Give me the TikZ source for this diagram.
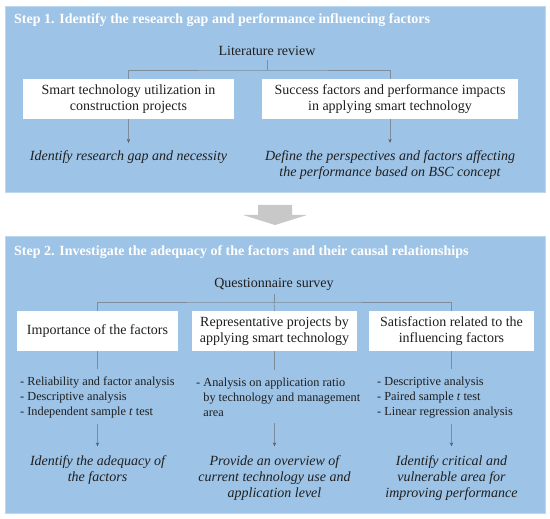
\documentclass[tikz,border=0pt]{standalone}
\usepackage{fontspec}
\setmainfont{Liberation Serif}
\usetikzlibrary{arrows.meta}
\definecolor{panel}{HTML}{9DC3E6}
\definecolor{panelrim}{HTML}{BDD7EE}
\definecolor{conn}{HTML}{7F8C9A}
\definecolor{tipc}{HTML}{5A6470}
\definecolor{bigarrow}{HTML}{C8C8C8}
\definecolor{ink}{HTML}{1F1F1F}
\tikzset{
  panelbox/.style={fill=panel, draw=panelrim, line width=1pt},
  steptitle/.style={anchor=west, inner sep=0pt, text=white, font=\fontsize{14}{16}\selectfont\bfseries},
  plain/.style={inner xsep=0pt, inner ysep=4pt, text=ink, font=\fontsize{14}{16}\selectfont},
  whitebox/.style={fill=white, inner sep=0pt, text=ink, align=center, font=\fontsize{14}{16}\selectfont},
  outtext/.style={inner sep=0pt, text=ink, align=center, font=\fontsize{14}{16}\selectfont\itshape},
  bullets/.style={anchor=west, inner sep=0pt, text=ink, align=left, font=\fontsize{12.3}{15}\selectfont},
  link/.style={draw=conn, line width=0.6pt},
  arrowlink/.style={link, -{Stealth[length=4pt,width=3.5pt,color=tipc]}},
}
\begin{document}
\begin{tikzpicture}[x=1pt,y=-1pt]
\useasboundingbox (0,0) rectangle (550,519);
\fill[white] (0,0) rectangle (550,519);
% panels
\draw[panelbox] (5,7) rectangle (545,193);
\draw[panelbox] (5,237) rectangle (545,513);
% big arrow between steps
\fill[bigarrow] (258,205) -- (292,205) -- (292,215) -- (307,215) -- (275,225) -- (243,215) -- (258,215) -- cycle;

% ---- Step 1
\node[steptitle] (t1) at (14,20) {Step 1. Identify the research gap and performance influencing factors};
\node[plain] (lit) at (267,51) {Literature review};
\node[whitebox, minimum width=211pt, minimum height=40pt] (b1) at (128.5,99) {Smart technology utilization in\\construction projects};
\node[whitebox, minimum width=256pt, minimum height=40pt] (b2) at (390,99) {Success factors and performance impacts\\in applying smart technology};
\node[outtext] (o1) at (128.5,157) {Identify research gap and necessity};
\node[outtext] (o2) at (390,165) {Define the perspectives and factors affecting\\the performance based on BSC concept};
\coordinate (j1) at (267,70);
\draw[link] (lit.south) -- (j1);
\draw[link] (b1.north) |- (j1) -| (b2.north);
\draw[arrowlink, shorten >=7.5pt] (b1.south) -- (o1.north);
\draw[arrowlink, shorten >=7.5pt] (b2.south) -- (o2.north);

% ---- Step 2
\node[steptitle] (t2) at (14,252) {Step 2. Investigate the adequacy of the factors and their causal relationships};
\node[plain] (qs) at (274,284) {Questionnaire survey};
\node[whitebox, minimum width=161pt, minimum height=40pt] (ba) at (97.5,331) {Importance of the factors};
\node[whitebox, minimum width=165pt, minimum height=40pt] (bb) at (274.5,331) {Representative projects by\\applying smart technology};
\node[whitebox, minimum width=165pt, minimum height=40pt] (bc) at (451.5,331) {Satisfaction related to the\\influencing factors};
\coordinate (j2) at (274,302);
\draw[link] (qs.south) -- (j2);
\draw[link] (ba.north) |- (j2) -| (bc.north);
\draw[link] (j2) -- (bb.north);

\node[bullets] (ua) at (20,397.5) {- Reliability and factor analysis\\- Descriptive analysis\\- Independent sample \textit{t} test};
\node[bullets] (ub) at (196,397.5) {- Analysis on application ratio\\\hphantom{- }by technology and management\\\hphantom{- }area};
\node[bullets] (uc) at (377,397.5) {- Descriptive analysis\\- Paired sample \textit{t} test\\- Linear regression analysis};

\node[outtext] (oa) at (97.5,470) {Identify the adequacy of\\the factors};
\node[outtext] (ob) at (274.5,478) {Provide an overview of\\current technology use and\\application level};
\node[outtext] (oc) at (451.5,478) {Identify critical and\\vulnerable area for\\improving performance};

\draw[link, shorten >=7.5pt] (ba.south) -- (ba.south |- ua.north);
\draw[link, shorten >=7.5pt] (bb.south) -- (bb.south |- ub.north);
\draw[link, shorten >=7.5pt] (bc.south) -- (bc.south |- uc.north);
\draw[arrowlink, shorten <=6pt, shorten >=9pt] (oa.north |- ua.south) -- (oa.north);
\draw[arrowlink, shorten <=6pt, shorten >=9pt] (ob.north |- ub.south) -- (ob.north);
\draw[arrowlink, shorten <=6pt, shorten >=9pt] (oc.north |- uc.south) -- (oc.north);
\end{tikzpicture}
\end{document}
